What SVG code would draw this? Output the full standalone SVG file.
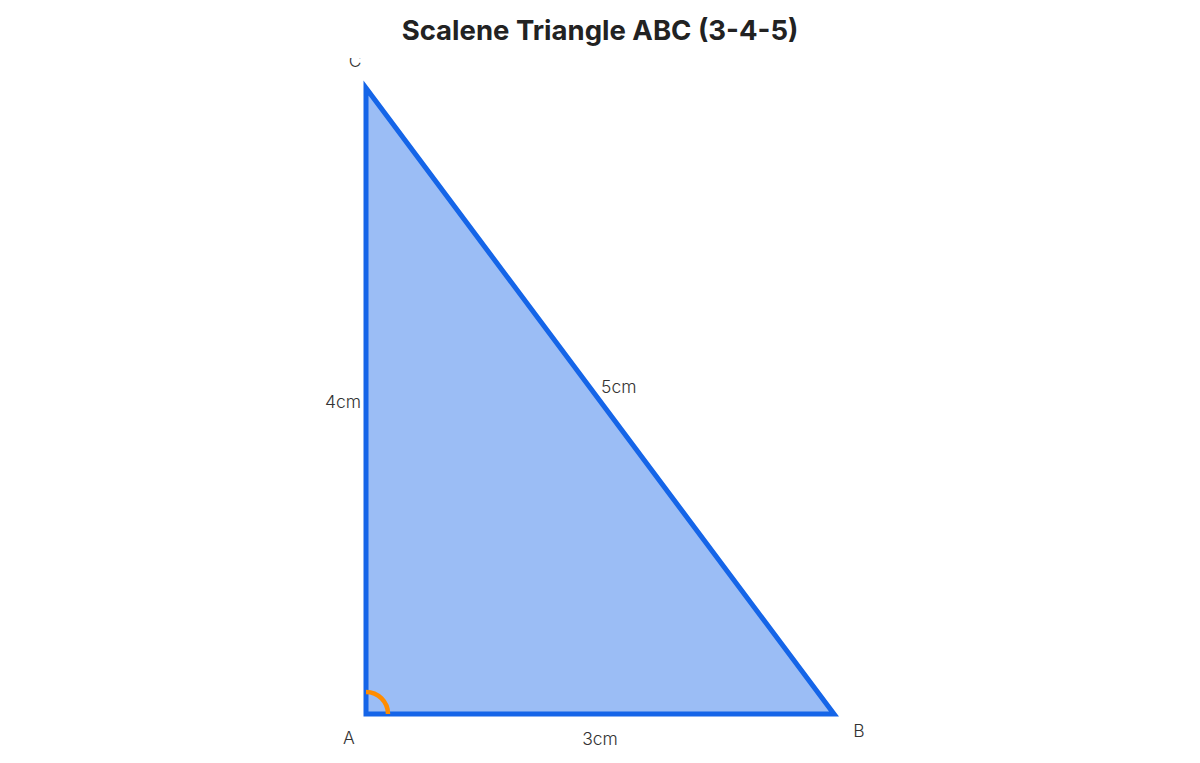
<svg xmlns="http://www.w3.org/2000/svg" width="1200" height="763" viewBox="0 0 1200 763">
<defs>
<style>
.lbl{font-family:Inter,"Noto Sans",sans-serif;font-size:17.5px;font-weight:300;fill:#333;}
.title{font-family:Inter,"Noto Sans",sans-serif;font-size:27.5px;font-weight:700;fill:#222;}
</style>
<clipPath id="clipC"><rect x="0" y="58" width="1200" height="705"/></clipPath>
</defs>
<rect width="1200" height="763" fill="#fff"/>
<text class="title" x="600" y="40" text-anchor="middle">Scalene Triangle ABC (3-4-5)</text>
<g id="triangle">
<polygon points="366,714 834,714 366,88" fill="#9bbdf5" stroke="#1565e8" stroke-width="5" stroke-linejoin="miter"/>
</g>
<g id="angle-A">
<path d="M366,692 A22,22 0 0 1 388,714" fill="none" stroke="#ff8c00" stroke-width="4.5"/>
</g>
<g id="labels">
<text class="lbl" x="349" y="744" text-anchor="middle">A</text>
<text class="lbl" x="859" y="737" text-anchor="middle">B</text>
<text class="lbl" x="355" y="67" text-anchor="middle" clip-path="url(#clipC)">C</text>
<text class="lbl" x="600" y="745" text-anchor="middle">3cm</text>
<text class="lbl" x="361" y="408" text-anchor="end">4cm</text>
<text class="lbl" x="601" y="393">5cm</text>
</g>
</svg>
